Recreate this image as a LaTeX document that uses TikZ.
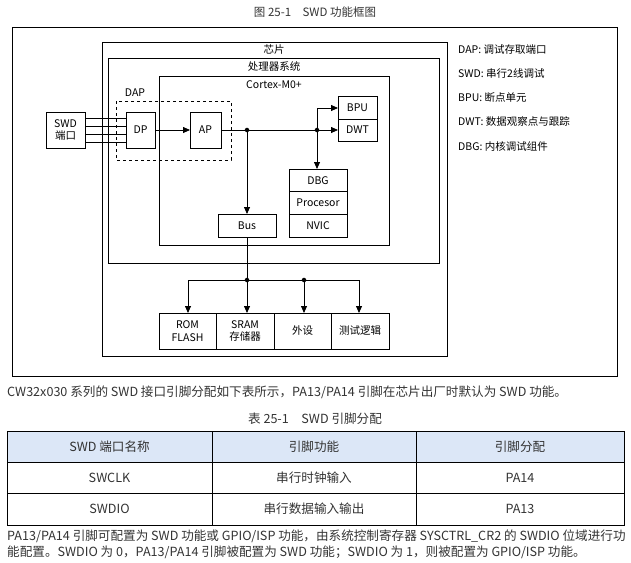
\documentclass[tikz,border=0pt]{standalone}
\usepackage{fontspec}
\setmainfont{Noto Sans CJK SC}
\usetikzlibrary{arrows.meta}
\definecolor{hdr}{HTML}{DCE7F7}
\definecolor{txt}{HTML}{333333}
\begin{document}
\begin{tikzpicture}[x=1pt,y=-1pt,
  bx/.style={draw,line width=0.8pt,inner sep=0pt},
  lbl/.style={font=\fontsize{10.5}{12.5}\selectfont,align=center},
  ar/.style={-{Triangle[length=7pt,width=6pt]},line width=0.8pt},
  ln/.style={line width=0.8pt},
  dot/.style={circle,fill,inner sep=1.6pt},
  para/.style={font=\fontsize{12.6}{15}\selectfont,text=txt,anchor=west,inner sep=0pt}]
\useasboundingbox (0,0) rectangle (631,562);
\node[font=\fontsize{11.5}{13}\selectfont,text=txt] (title) at (315,12) {图 25-1\quad SWD 功能框图};
\draw[line width=0.6pt] (12,27) rectangle (617,376);
% containers
\draw[bx] (102,42) rectangle (447,356);
\node[lbl] (chip) at (274,49.5) {芯片};
\draw[bx] (108,58) rectangle (439,263);
\node[lbl] (proc) at (274,66.5) {处理器系统};
\draw[bx] (159,76) rectangle (389,245);
\node[lbl] (cm) at (274,84.5) {Cortex-M0+};
\draw[dashed,line width=0.6pt] (116,101) rectangle (231,160);
\node[lbl] (dap) at (135,93) {DAP};
% boxes
\draw[bx,fill=white] (46,112) rectangle (85,148);
\node[lbl] (swd) at (65.5,130) {SWD\\端口};
\draw[bx,fill=white] (126,112) rectangle (155,148);
\node[lbl] (dp) at (140.5,130) {DP};
\draw[bx,fill=white] (190,112) rectangle (221,148);
\node[lbl] (ap) at (205.5,130) {AP};
\draw[bx] (338,96) rectangle (377,119);
\node[lbl] (bpu) at (357.5,107.5) {BPU};
\draw[bx] (338,119) rectangle (377,141);
\node[lbl] (dwt) at (357.5,130) {DWT};
\draw[bx] (289,169) rectangle (347,191.7);
\node[lbl] (dbg) at (318,180.3) {DBG};
\draw[bx] (289,191.7) rectangle (347,214.3);
\node[lbl] (pro) at (318,203) {Procesor};
\draw[bx] (289,214.3) rectangle (347,237);
\node[lbl] (nvic) at (318,225.7) {NVIC};
\draw[bx] (218,214) rectangle (276,237);
\node[lbl] (bus) at (247,225.5) {Bus};
% bottom
\foreach \a/\b/\t/\n in {159/216/{ROM\\FLASH}/rom,216/274/{SRAM\\存储器}/sram,274/331/{外设}/per,331/389/{测试逻辑}/tst}{
  \draw[bx] (\a,313) rectangle (\b,349);
  \node[lbl] (\n) at ({(\a+\b)/2},331) {\t};
}
% swd lines
\foreach \y in {118,126,134,142}{\draw[line width=0.6pt] (85,\y) -- (126,\y);}
% connectors
\coordinate (j1) at (247,130);
\coordinate (j2) at (317,130);
\coordinate (j3) at (317,108);
\draw[ar] (155,130) -- (190,130);
\draw[ln] (221,130) -- (j2);
\draw[ar] (j2) -- (338,130);
\draw[ln] (j2) -- (j3);
\draw[ar] (j3) -- (338,108);
\draw[ar] (j2) -- (317,169);
\draw[ar] (j1) -- (247,214);
\node[dot] at (j1) {};
\node[dot] at (j2) {};
\coordinate (b0) at (247,280);
\coordinate (b1) at (304,280);
\draw[ln] (247,237) -- (b0);
\draw[ln] (188,280) -- (359,280);
\draw[ar] (188,280) -- (188,313);
\draw[ar] (b0) -- (247,313);
\draw[ar] (b1) -- (304,313);
\draw[ar] (359,280) -- (359,313);
\node[dot] at (b0) {};
\node[dot] at (b1) {};
% legend
\foreach \y/\t/\n in {50/{DAP: 调试存取端口}/l1,74/{SWD: 串行2线调试}/l2,98/{BPU: 断点单元}/l3,122/{DWT: 数据观察点与跟踪}/l4,146/{DBG: 内核调试组件}/l5}{
  \node[lbl,anchor=west,inner sep=0pt] (\n) at (458,\y) {\t};
}
% text
\node[para] (p0) at (7,392) {CW32x030 系列的 SWD 接口引脚分配如下表所示，PA13/PA14 引脚在芯片出厂时默认为 SWD 功能。};
\node[font=\fontsize{12.6}{15}\selectfont,text=txt] (cap) at (315,419) {表 25-1\quad SWD 引脚分配};
\fill[hdr] (7,431) rectangle (624,462);
\draw[line width=0.6pt] (7,431) rectangle (624,525);
\draw[line width=0.6pt] (7,462) -- (624,462) (7,493) -- (624,493) (212,431) -- (212,525) (416,431) -- (416,525);
\node[para,anchor=center] (h1) at (109.5,446.5) {SWD 端口名称};
\node[para,anchor=center] (h2) at (314,446.5) {引脚功能};
\node[para,anchor=center] (h3) at (520,446.5) {引脚分配};
\node[para,anchor=center] (c1) at (109.5,477.5) {SWCLK};
\node[para,anchor=center] (c2) at (314,477.5) {串行时钟输入};
\node[para,anchor=center] (c3) at (520,477.5) {PA14};
\node[para,anchor=center] (d1) at (109.5,508.5) {SWDIO};
\node[para,anchor=center] (d2) at (314,508.5) {串行数据输入输出};
\node[para,anchor=center] (d3) at (520,508.5) {PA13};
\node[para] (p1) at (7,536) {PA13/PA14 引脚可配置为 SWD 功能或 GPIO/ISP 功能，由系统控制寄存器 SYSCTRL\_CR2 的 SWDIO 位域进行功};
\node[para] (p2) at (7,552) {能配置。SWDIO 为 0，PA13/PA14 引脚被配置为 SWD 功能；SWDIO 为 1，则被配置为 GPIO/ISP 功能。};
\end{tikzpicture}
\end{document}
